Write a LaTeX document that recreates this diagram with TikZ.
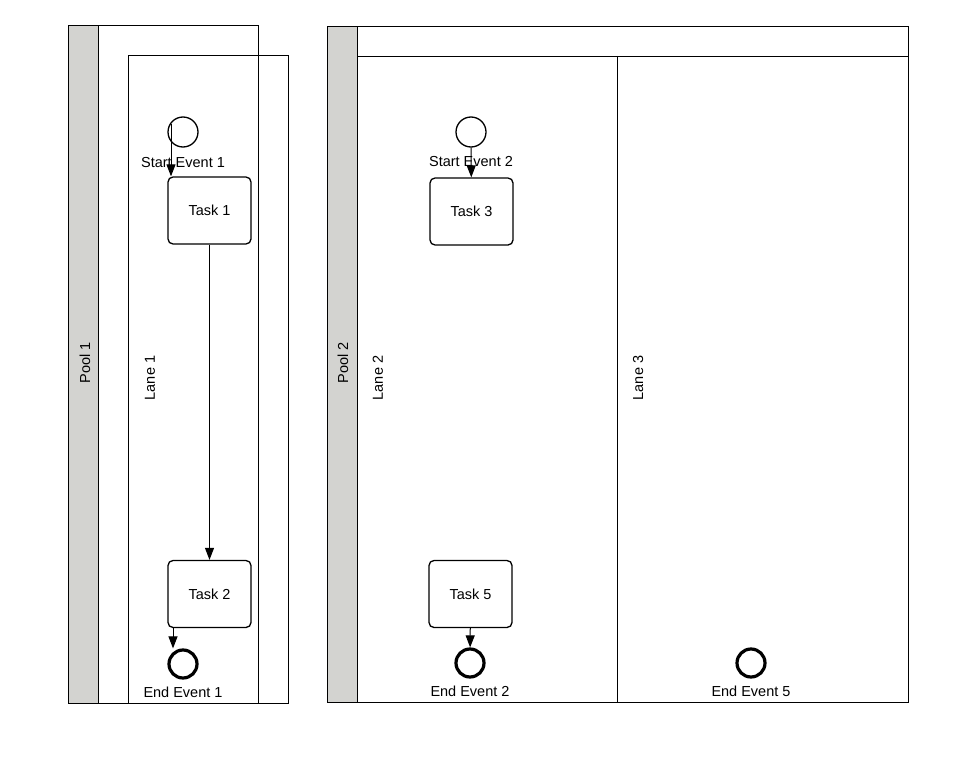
\documentclass[tikz,border=0pt]{standalone}
\usepackage{fontspec}
\setmainfont{Liberation Sans}
\usetikzlibrary{arrows.meta}
\definecolor{hdr}{RGB}{211,211,208}
\begin{document}
\begin{tikzpicture}[x=1pt,y=-1pt,
  box/.style={draw=black,line width=0.8pt},
  hdrbox/.style={draw=black,fill=hdr,line width=0.8pt},
  task/.style={draw=black,line width=1.3pt,rounded corners=5pt,minimum width=83pt,minimum height=67pt,font=\fontsize{14.5}{16}\selectfont},
  sev/.style={circle,draw=black,line width=1.3pt,minimum size=30pt,inner sep=0pt},
  eev/.style={circle,draw=black,line width=3.2pt,minimum size=28pt,inner sep=0pt},
  lbl/.style={font=\fontsize{14.5}{16}\selectfont,inner sep=0pt},
  flow/.style={draw=black,line width=1pt,-{Triangle[length=12pt,width=9pt]}}]
\useasboundingbox (0,0) rectangle (977,757);
% Pool 1
\draw[box] (68,25) rectangle (258,703);
\draw[hdrbox] (68,25) rectangle (98,703);
\node[lbl,rotate=90] (p1) at (85,363) {Pool 1};
\draw[box] (128,55) rectangle (288,703);
\node[lbl,rotate=90] (l1) at (150,378) {Lane 1};
% Pool 2
\draw[box] (327,26) rectangle (908,702);
\draw[box] (357,56) rectangle (908,702);
\draw[box] (617,56) -- (617,702);
\draw[hdrbox] (327,26) rectangle (357,702);
\node[lbl,rotate=90] (p2) at (343,363) {Pool 2};
\node[lbl,rotate=90] (l2) at (378,378) {Lane 2};
\node[lbl,rotate=90] (l3) at (638,378) {Lane 3};
% nodes
\node[sev] (s1) at (183,132) {};
\node[lbl] (s1l) at (183,163) {Start Event 1};
\node[task] (t1) at (209.5,210.5) {Task 1};
\node[task] (t2) at (209.5,594) {Task 2};
\node[eev] (e1) at (183,664) {};
\node[lbl] (e1l) at (183,692) {End Event 1};
\node[sev] (s2) at (471,132) {};
\node[lbl] (s2l) at (471,162) {Start Event 2};
\node[task] (t3) at (471.5,211.5) {Task 3};
\node[task] (t5) at (470.5,594) {Task 5};
\node[eev] (e2) at (470,663) {};
\node[lbl] (e2l) at (470,691) {End Event 2};
\node[eev] (e5) at (751,663) {};
\node[lbl] (e5l) at (751,691) {End Event 5};
% flows
\coordinate (a) at ([xshift=-12pt,yshift=8pt]s1.center);
\draw[flow] (a) -- (a |- t1.north);
\draw[flow] (t1) -- (t2);
\coordinate (b) at ([xshift=-36.5pt]t2.south);
\draw[flow] (b) -- (b |- e1.north);
\draw[flow] (s2) -- (t3);
\draw[flow] (t5) -- (e2);
\end{tikzpicture}
\end{document}
